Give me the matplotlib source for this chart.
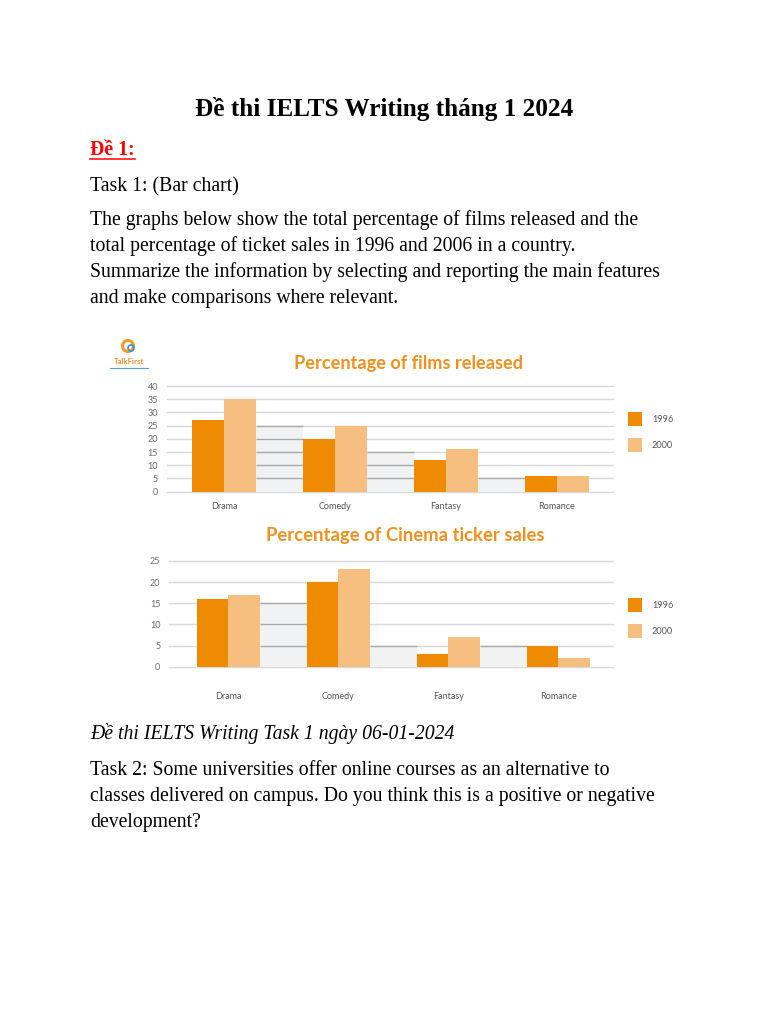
import matplotlib
matplotlib.use("Agg")
import matplotlib.pyplot as plt
from matplotlib.patches import Rectangle, Circle
import numpy as np

# ---------------- data ----------------
categories = ["Drama", "Comedy", "Fantasy", "Romance"]
series_names = ["1996", "2000"]
films_1996 = [27, 20, 12, 6]
films_2000 = [35, 25, 16, 6]
tickets_1996 = [16, 20, 3, 5]
tickets_2000 = [17, 23, 7, 2]
films_ticks = [0, 5, 10, 15, 20, 25, 30, 35, 40]
tickets_ticks = [0, 5, 10, 15, 20, 25]

title_text = "Đề thi IELTS Writing tháng 1 2024"
heading_text = "Đề 1:"
task1_text = "Task 1: (Bar chart)"
para_lines = [
    "The graphs below show the total percentage of films released and the",
    "total percentage of ticket sales in 1996 and 2006 in a country.",
    "Summarize the information by selecting and reporting the main features",
    "and make comparisons where relevant.",
]
italic_text = "Đề thi IELTS Writing Task 1 ngày 06-01-2024"
task2_lines = [
    "Task 2: Some universities offer online courses as an alternative to",
    "classes delivered on campus. Do you think this is a positive or negative",
    "development?",
]
chart1_title = "Percentage of films released"
chart2_title = "Percentage of Cinema ticker sales"

C_DARK = "#ee8b00"
C_LIGHT = "#f6bf7f"
C_TITLE = "#f0901e"
C_GRID = "#d9d9d9"
C_GRID_DARK = "#a8a8a8"
C_SHADE = "#f1f2f3"
C_TICK = "#6a6a6a"

SERIF = ["Liberation Serif", "DejaVu Serif"]
SANS = ["Lato", "DejaVu Sans"]
BODY = 14.2

W, H = 768, 1024
fig = plt.figure(figsize=(W / 100, H / 100), dpi=100)
fig.patch.set_facecolor("white")

# overlay axes in pixel coordinates for document text
bg = fig.add_axes([0, 0, 1, 1])
bg.set_xlim(0, W)
bg.set_ylim(H, 0)
bg.axis("off")
bg.patch.set_alpha(0)


def px_axes(left, top, right, bottom):
    return fig.add_axes([left / W, 1 - bottom / H, (right - left) / W, (bottom - top) / H])


def bar_chart(ax, v1, v2, ticks, xlim, width, cat_pad):
    x = np.arange(len(categories))
    ax.set_xlim(*xlim)
    ax.set_ylim(ticks[0], ticks[-1])
    step = ticks[1] - ticks[0]
    # shaded bands between groups
    tops = [max(a, b) for a, b in zip(v1, v2)]
    for i in range(len(categories) - 1):
        h = np.floor(min(tops[i], tops[i + 1]) / step) * step
        x0 = x[i] + width
        x1 = x[i + 1] - width
        ax.add_patch(Rectangle((x0, 0), x1 - x0, h, facecolor=C_SHADE,
                               edgecolor="none", zorder=0.5))
        dark = [t for t in ticks if 0 < t <= h]
        if dark:
            ax.hlines(dark, x0, x1, color=C_GRID_DARK, lw=1.0, zorder=0.8)
    ax.set_yticks(ticks)
    for t in ticks:
        ax.axhline(t, color=C_GRID, lw=1.0, zorder=0.3, clip_on=False)
    ax.bar(x - width / 2, v1, width, color=C_DARK, zorder=2, linewidth=0)
    ax.bar(x + width / 2, v2, width, color=C_LIGHT, zorder=2, linewidth=0)
    ax.set_xticks(x)
    ax.set_xticklabels(categories, fontsize=6.5, color="#555555", family=SANS)
    for s in ax.spines.values():
        s.set_visible(False)
    ax.tick_params(axis="both", length=0)
    ax.tick_params(axis="y", pad=6.5, labelsize=6.5, labelcolor=C_TICK)
    ax.tick_params(axis="x", pad=cat_pad)
    for lab in ax.get_yticklabels():
        lab.set_family(SANS)
    ax.patch.set_alpha(0)


ax1 = px_axes(167, 386, 612.7, 491.7)
bar_chart(ax1, films_1996, films_2000, films_ticks, (-0.514, 3.502), 0.285, 7.5)

ax2 = px_axes(169.3, 561, 613.3, 666.7)
bar_chart(ax2, tickets_1996, tickets_2000, tickets_ticks, (-0.536, 3.5), 0.285, 18)

# chart titles
bg.text(408, 363, chart1_title, ha="center", va="center", fontsize=13.1,
        fontweight="bold", color=C_TITLE, family=SANS)
bg.text(405, 536, chart2_title, ha="center", va="center", fontsize=13.3,
        fontweight="bold", color=C_TITLE, family=SANS)

# legends (drawn beside each chart)
for (y0, y1) in [(412, 438), (598, 624)]:
    for yy, col, name in zip((y0, y1), (C_DARK, C_LIGHT), series_names):
        bg.add_patch(Rectangle((628, yy), 14, 14, facecolor=col, edgecolor="none"))
        bg.text(652, yy + 7, name, ha="left", va="center", fontsize=6.6,
                color="#555555", family=SANS)

# logo
bg.add_patch(Circle((128, 346), 5.5, facecolor="none", edgecolor="#f39a2a", lw=2.2))
bg.add_patch(Circle((131, 348), 3.0, facecolor="none", edgecolor="#3a8fd0", lw=1.2))
bg.text(129, 362, "TalkFirst", ha="center", va="center", fontsize=5.6,
        fontweight="bold", color="#f0902a", family=SANS)
bg.plot([110, 148], [367.5, 367.5], color="#5aa0d8", lw=0.8)

# document text
bg.text(384, 116, title_text, ha="center", va="baseline", fontsize=18.2,
        fontweight="bold", color="black", family=SERIF)
h1 = bg.text(90, 155, heading_text, ha="left", va="baseline", fontsize=BODY,
             fontweight="bold", color="#ff0000", family=SERIF)
bg.text(90, 191, task1_text, ha="left", va="baseline", fontsize=BODY,
        color="black", family=SERIF)
for i, line in enumerate(para_lines):
    bg.text(90, 225 + 26 * i, line, ha="left", va="baseline", fontsize=BODY,
            color="black", family=SERIF)
bg.text(90, 739, italic_text, ha="left", va="baseline", fontsize=BODY,
        style="italic", color="black", family=SERIF)
for i, line in enumerate(task2_lines):
    bg.text(90, 775 + 26 * i, line, ha="left", va="baseline", fontsize=BODY,
            color="black", family=SERIF)

# underline for heading
fig.canvas.draw()
bb = h1.get_window_extent()
bg.plot([bb.x0, bb.x1], [158.5, 158.5], color="#ff0000", lw=1.1)

fig.savefig("out.png", dpi=100, facecolor="white")
